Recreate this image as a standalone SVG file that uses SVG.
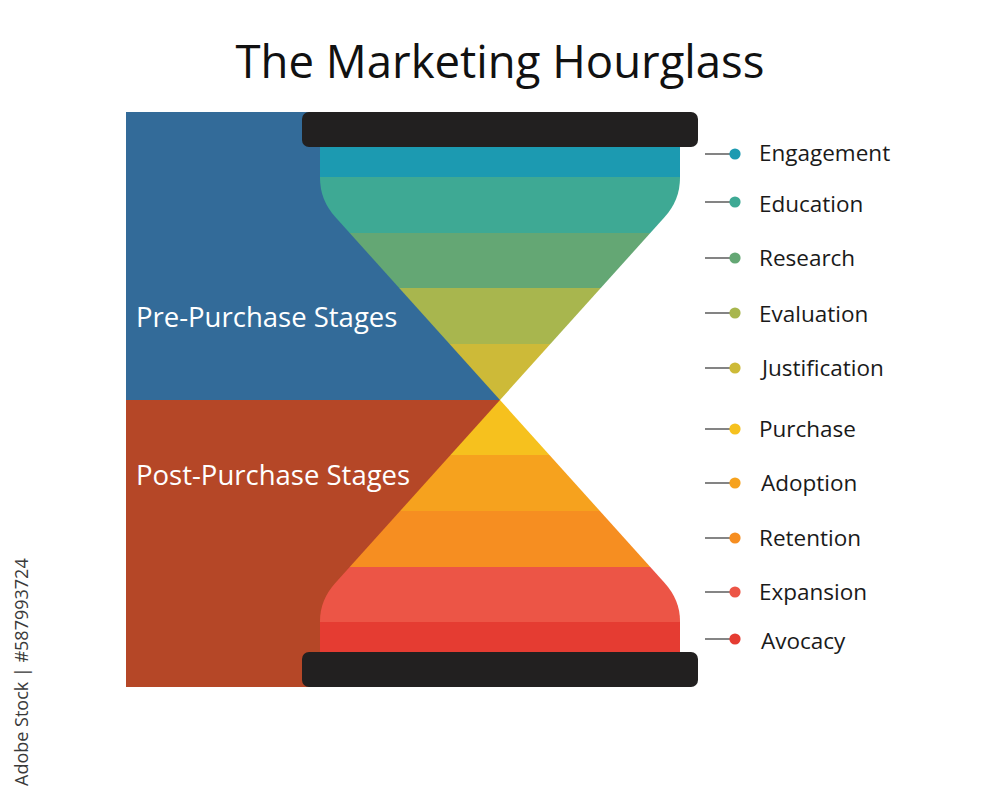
<svg xmlns="http://www.w3.org/2000/svg" width="1000" height="800" viewBox="0 0 1000 800">
<style>
.title{font-family:"Open Sans","Noto Sans",sans-serif;font-size:45.5px;fill:#111;}
.stage{font-family:"Open Sans","Noto Sans",sans-serif;font-size:27.5px;fill:#fff;}
.lbl{font-family:"Open Sans","Noto Sans",sans-serif;font-size:22.5px;fill:#1a1a1a;}
.lead{stroke:#333;stroke-width:1.2;}
.bar{fill:#222020;}
.wm{font-family:"Open Sans","Noto Sans",sans-serif;font-size:18px;fill:#3a3a3a;}
</style>
<defs>
<clipPath id="topBulb"><path d="M320,147 H680 V178 Q680,200 664.7,217 L500,400 L335.3,217 Q320,200 320,178 Z"/></clipPath>
<clipPath id="botBulb"><path d="M320,652 V621 Q320,600 335.3,583 L500,400 L664.7,583 Q680,600 680,621 V652 Z"/></clipPath>
</defs>
<rect width="1000" height="800" fill="#fff"/>
<text class="title" x="500" y="78" text-anchor="middle">The Marketing Hourglass</text>
<g id="pre-purchase">
<rect x="126" y="112" width="374" height="288" fill="#336b99"/>
<text class="stage" x="136" y="327">Pre-Purchase Stages</text>
</g>
<g id="post-purchase">
<rect x="126" y="400" width="374" height="287" fill="#b54727"/>
<text class="stage" x="136" y="485">Post-Purchase Stages</text>
</g>
<g id="top-bulb" clip-path="url(#topBulb)">
<rect x="300" y="140" width="400" height="37" fill="#1c9ab1"/>
<rect x="300" y="177" width="400" height="56" fill="#3ea994"/>
<rect x="300" y="233" width="400" height="55" fill="#64a774"/>
<rect x="300" y="288" width="400" height="56" fill="#a8b64e"/>
<rect x="300" y="344" width="400" height="57" fill="#cdba38"/>
</g>
<g id="bottom-bulb" clip-path="url(#botBulb)">
<rect x="300" y="399" width="400" height="56" fill="#f6c11e"/>
<rect x="300" y="455" width="400" height="56" fill="#f6a21e"/>
<rect x="300" y="511" width="400" height="56" fill="#f68e21"/>
<rect x="300" y="567" width="400" height="55" fill="#ec5546"/>
<rect x="300" y="622" width="400" height="35" fill="#e53c32"/>
</g>
<g id="top-bar"><rect class="bar" x="302" y="112" width="396" height="35" rx="7"/></g>
<g id="bottom-bar"><rect class="bar" x="302" y="652" width="396" height="35" rx="7"/></g>
<g id="connectors">
<line class="lead" x1="705" y1="154" x2="732" y2="154"/>
<line class="lead" x1="705" y1="202" x2="732" y2="202"/>
<line class="lead" x1="705" y1="258" x2="732" y2="258"/>
<line class="lead" x1="705" y1="313" x2="732" y2="313"/>
<line class="lead" x1="705" y1="368" x2="732" y2="368"/>
<line class="lead" x1="705" y1="429" x2="732" y2="429"/>
<line class="lead" x1="705" y1="483" x2="732" y2="483"/>
<line class="lead" x1="705" y1="538" x2="732" y2="538"/>
<line class="lead" x1="705" y1="592" x2="732" y2="592"/>
<line class="lead" x1="705" y1="639" x2="732" y2="639"/>
</g>
<g id="engagement"><circle cx="735" cy="154" r="5.6" fill="#1c9ab1"/><text class="lbl" x="759" y="161">Engagement</text></g>
<g id="education"><circle cx="735" cy="202" r="5.6" fill="#3ea994"/><text class="lbl" x="759" y="212">Education</text></g>
<g id="research"><circle cx="735" cy="258" r="5.6" fill="#64a774"/><text class="lbl" x="759" y="266">Research</text></g>
<g id="evaluation"><circle cx="735" cy="313" r="5.6" fill="#a8b64e"/><text class="lbl" x="759" y="322">Evaluation</text></g>
<g id="justification"><circle cx="735" cy="368" r="5.6" fill="#cdba38"/><text class="lbl" x="762" y="376">Justification</text></g>
<g id="purchase"><circle cx="735" cy="429" r="5.6" fill="#f6c11e"/><text class="lbl" x="759" y="437">Purchase</text></g>
<g id="adoption"><circle cx="735" cy="483" r="5.6" fill="#f6a21e"/><text class="lbl" x="761" y="491">Adoption</text></g>
<g id="retention"><circle cx="735" cy="538" r="5.6" fill="#f68e21"/><text class="lbl" x="759" y="546">Retention</text></g>
<g id="expansion"><circle cx="735" cy="592" r="5.6" fill="#ec5546"/><text class="lbl" x="759" y="600">Expansion</text></g>
<g id="avocacy"><circle cx="735" cy="639" r="5.6" fill="#e53c32"/><text class="lbl" x="761" y="649">Avocacy</text></g>
<text class="wm" transform="translate(28,786) rotate(-90)">Adobe Stock | #587993724</text>
</svg>
